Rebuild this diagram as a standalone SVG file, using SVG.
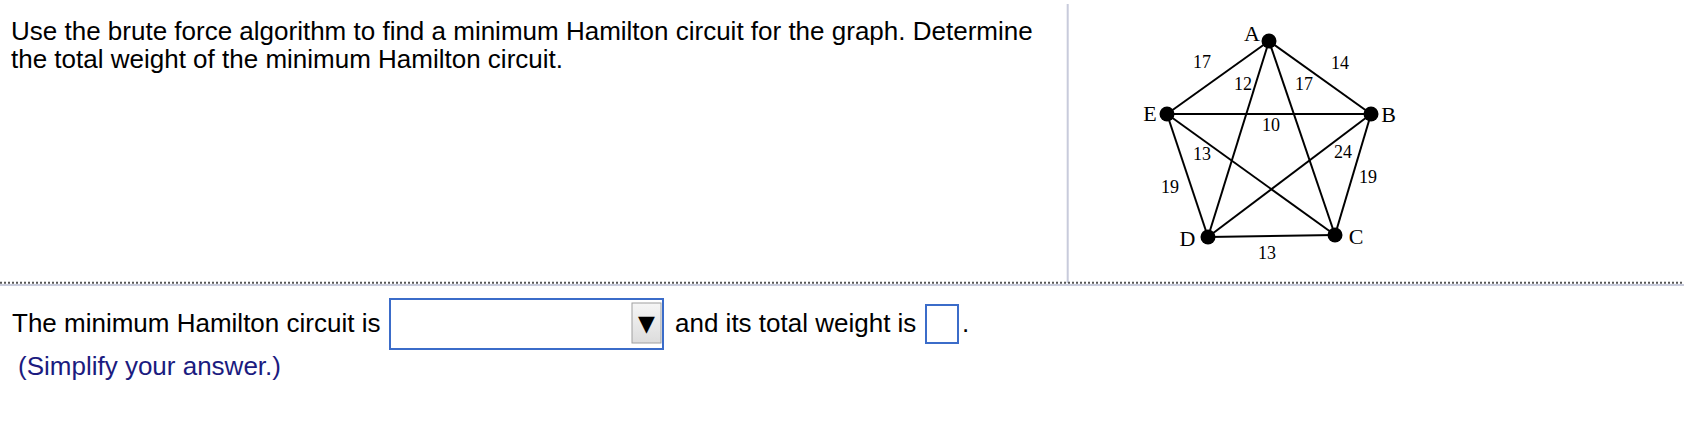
<svg xmlns="http://www.w3.org/2000/svg" width="1684" height="436" viewBox="0 0 1684 436">
<defs>
<linearGradient id="btn" x1="0" y1="0" x2="0" y2="1"><stop offset="0" stop-color="#f6f6f6"/><stop offset="1" stop-color="#dcdcdc"/></linearGradient>
</defs>
<style>
.q{font-family:"Liberation Sans",Arial,sans-serif;font-size:26px;fill:#000}
.hint{font-family:"Liberation Sans",Arial,sans-serif;font-size:26px;fill:#1b1b80}
.edge{stroke:#000;stroke-width:2;fill:none}
.dot{fill:#000}
.lbl{font-family:"Liberation Serif","Times New Roman",serif;font-size:22px;fill:#000;text-anchor:middle}
.w{font-family:"Liberation Serif","Times New Roman",serif;font-size:18px;fill:#000;text-anchor:middle}
.box{fill:#fff;stroke:#3b6cc9;stroke-width:2}
</style>
<rect width="1684" height="436" fill="#fff"/>
<text class="q" x="11" y="40">Use the brute force algorithm to find a minimum Hamilton circuit for the graph. Determine</text>
<text class="q" x="11" y="68">the total weight of the minimum Hamilton circuit.</text>
<line x1="1067.7" y1="4" x2="1067.7" y2="283" stroke="#c8cbdb" stroke-width="2"/>
<line x1="0" y1="285" x2="1684" y2="285" stroke="#c8cbdb" stroke-width="2"/>
<line x1="0" y1="282.7" x2="1684" y2="282.7" stroke="#555" stroke-width="2" stroke-dasharray="2 2"/>
<g id="connectors">
<line class="edge" x1="1269" y1="41" x2="1371" y2="114"/>
<line class="edge" x1="1269" y1="41" x2="1167" y2="114"/>
<line class="edge" x1="1269" y1="41" x2="1335" y2="235"/>
<line class="edge" x1="1269" y1="41" x2="1208" y2="237"/>
<line class="edge" x1="1167" y1="114" x2="1371" y2="114"/>
<line class="edge" x1="1371" y1="114" x2="1335" y2="235"/>
<line class="edge" x1="1371" y1="114" x2="1208" y2="237"/>
<line class="edge" x1="1167" y1="114" x2="1335" y2="235"/>
<line class="edge" x1="1167" y1="114" x2="1208" y2="237"/>
<line class="edge" x1="1208" y1="237" x2="1335" y2="235"/>
<text class="w" x="1202" y="68">17</text>
<text class="w" x="1340" y="69">14</text>
<text class="w" x="1243" y="89.5">12</text>
<text class="w" x="1304" y="89.5">17</text>
<text class="w" x="1271" y="131">10</text>
<text class="w" x="1202" y="160">13</text>
<text class="w" x="1343" y="157.5">24</text>
<text class="w" x="1368" y="182.5">19</text>
<text class="w" x="1170" y="192.5">19</text>
<text class="w" x="1267" y="259">13</text>
</g>
<g id="node-A"><circle class="dot" cx="1269" cy="41" r="7.5"/><text class="lbl" x="1252" y="40.5">A</text></g>
<g id="node-B"><circle class="dot" cx="1371" cy="114" r="7.5"/><text class="lbl" x="1388.5" y="122">B</text></g>
<g id="node-C"><circle class="dot" cx="1335" cy="235" r="7.5"/><text class="lbl" x="1356" y="244">C</text></g>
<g id="node-D"><circle class="dot" cx="1208" cy="237" r="7.5"/><text class="lbl" x="1187.5" y="245.5">D</text></g>
<g id="node-E"><circle class="dot" cx="1167" cy="114" r="7.5"/><text class="lbl" x="1150" y="121">E</text></g>
<text class="q" x="12" y="332">The minimum Hamilton circuit is</text>
<rect class="box" x="390" y="299" width="273" height="50"/>
<rect x="632" y="303" width="29" height="40" fill="url(#btn)" stroke="#a0a0a0" stroke-width="1"/>
<text x="646.5" y="331" font-family="'DejaVu Sans',sans-serif" font-size="22" text-anchor="middle" fill="#000">▼</text>
<text class="q" x="675" y="332">and its total weight is</text>
<rect class="box" x="926" y="305" width="32" height="38"/>
<text class="q" x="962" y="332">.</text>
<text class="hint" x="18" y="375">(Simplify your answer.)</text>
</svg>
